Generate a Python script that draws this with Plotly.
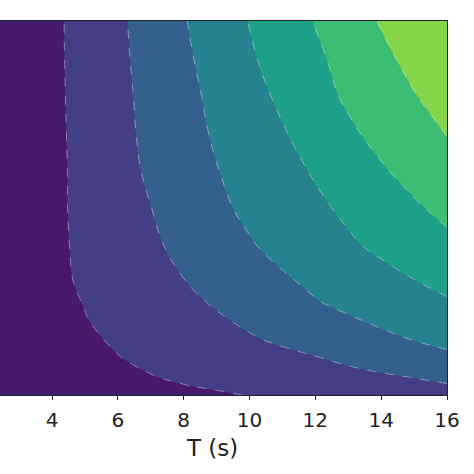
import plotly.graph_objects as go

# Wave period T (s) grid
T_values = [2, 3, 4, 5, 6, 7, 8, 9, 10, 11, 12, 13, 14, 15, 16]
# Normalised vertical coordinate (left axis is cropped off in the reference)
H_values = [0, 0.025, 0.05, 0.1, 0.15, 0.2, 0.25, 0.3, 0.4, 0.5, 0.6, 0.7, 0.8, 0.9, 1.0]

# Field values (rows follow H_values, columns follow T_values)
z_h000 = [0.00, 0.12, 0.25, 0.38, 0.51, 0.64, 0.77, 0.90, 1.03, 1.15, 1.28, 1.41, 1.54, 1.67, 1.80]
z_h025 = [0.24, 0.37, 0.49, 0.61, 0.73, 0.85, 0.98, 1.10, 1.22, 1.34, 1.46, 1.59, 1.71, 1.83, 1.95]
z_h050 = [0.32, 0.45, 0.58, 0.72, 0.85, 0.98, 1.11, 1.25, 1.38, 1.51, 1.64, 1.78, 1.91, 2.04, 2.17]
z_h100 = [0.32, 0.48, 0.65, 0.81, 0.98, 1.14, 1.31, 1.47, 1.64, 1.80, 1.97, 2.17, 2.38, 2.59, 2.80]
z_h150 = [0.27, 0.47, 0.68, 0.89, 1.09, 1.30, 1.51, 1.71, 1.92, 2.14, 2.36, 2.59, 2.81, 3.04, 3.27]
z_h200 = [0.27, 0.51, 0.74, 0.97, 1.21, 1.44, 1.67, 1.90, 2.15, 2.40, 2.65, 2.90, 3.15, 3.38, 3.62]
z_h250 = [0.24, 0.50, 0.77, 1.03, 1.30, 1.56, 1.82, 2.09, 2.38, 2.67, 2.96, 3.22, 3.49, 3.70, 3.92]
z_h300 = [0.23, 0.52, 0.81, 1.10, 1.39, 1.68, 1.97, 2.27, 2.57, 2.87, 3.15, 3.42, 3.69, 3.95, 4.22]
z_h400 = [0.12, 0.47, 0.82, 1.16, 1.51, 1.86, 2.21, 2.57, 2.93, 3.25, 3.56, 3.87, 4.18, 4.48, 4.78]
z_h500 = [0.02, 0.42, 0.81, 1.21, 1.60, 1.99, 2.41, 2.82, 3.18, 3.51, 3.83, 4.17, 4.53, 4.88, 5.24]
z_h600 = [-0.10, 0.35, 0.79, 1.24, 1.69, 2.13, 2.55, 2.97, 3.34, 3.71, 4.09, 4.50, 4.91, 5.30, 5.69]
z_h700 = [-0.16, 0.32, 0.79, 1.27, 1.74, 2.21, 2.66, 3.11, 3.52, 3.93, 4.38, 4.85, 5.26, 5.64, 6.03]
z_h800 = [-0.17, 0.32, 0.80, 1.29, 1.77, 2.26, 2.74, 3.22, 3.69, 4.17, 4.67, 5.14, 5.55, 5.96, 6.38]
z_h900 = [-0.18, 0.31, 0.81, 1.31, 1.81, 2.32, 2.84, 3.36, 3.89, 4.37, 4.84, 5.31, 5.79, 6.26, 6.73]
z_h1000 = [-0.20, 0.30, 0.81, 1.33, 1.84, 2.39, 2.94, 3.49, 4.03, 4.53, 5.04, 5.55, 6.07, 6.58, 7.10]

z_rows = [z_h000, z_h025, z_h050, z_h100, z_h150, z_h200, z_h250, z_h300,
          z_h400, z_h500, z_h600, z_h700, z_h800, z_h900, z_h1000]

x_tick_values = [4, 6, 8, 10, 12, 14, 16]
x_tick_labels = ["4", "6", "8", "10", "12", "14", "16"]

band_colors = ["#48186a", "#433e85", "#35608d", "#26828e", "#1fa088", "#3dbc74", "#86d549"]
colorscale = [[i / (len(band_colors) - 1), c] for i, c in enumerate(band_colors)]

fig = go.Figure(go.Contour(
    x=T_values,
    y=H_values,
    z=z_rows,
    autocontour=False,
    contours=dict(start=1, end=6, size=1, coloring="fill", showlines=True),
    colorscale=colorscale,
    showscale=False,
    line=dict(color="rgba(255,255,255,0.5)", width=0.8, dash="dash", smoothing=1.3),
    hoverinfo="skip",
))

fig.update_layout(
    width=474, height=474,
    margin=dict(l=0, r=27, t=21, b=79, pad=0),
    paper_bgcolor="white",
    plot_bgcolor="white",
    font=dict(family="DejaVu Sans", size=20, color="#222222"),
    showlegend=False,
    xaxis=dict(
        range=[2.42, 16],
        tickvals=x_tick_values,
        ticktext=x_tick_labels,
        ticks="outside", ticklen=4, tickwidth=1, tickcolor="#222222",
        ticklabelstandoff=3,
        showline=True, linecolor="#222222", linewidth=1, mirror=True,
        showgrid=False, zeroline=False,
        tickfont=dict(family="DejaVu Sans", size=20, color="#222222"),
    ),
    yaxis=dict(
        range=[0, 1],
        side="right",
        showticklabels=False, ticks="",
        showline=True, linecolor="#222222", linewidth=1, mirror=False,
        showgrid=False, zeroline=False,
    ),
    annotations=[dict(
        text="T (s)", x=8.87, xref="x", y=-0.142, yref="paper",
        xanchor="center", yanchor="middle", showarrow=False,
        font=dict(family="DejaVu Sans", size=23, color="#222222"),
    )],
)

fig.write_html(
    "out.html",
    config={"displayModeBar": False},
    post_script="document.body.style.margin='0';document.body.style.overflow='hidden';",
)
